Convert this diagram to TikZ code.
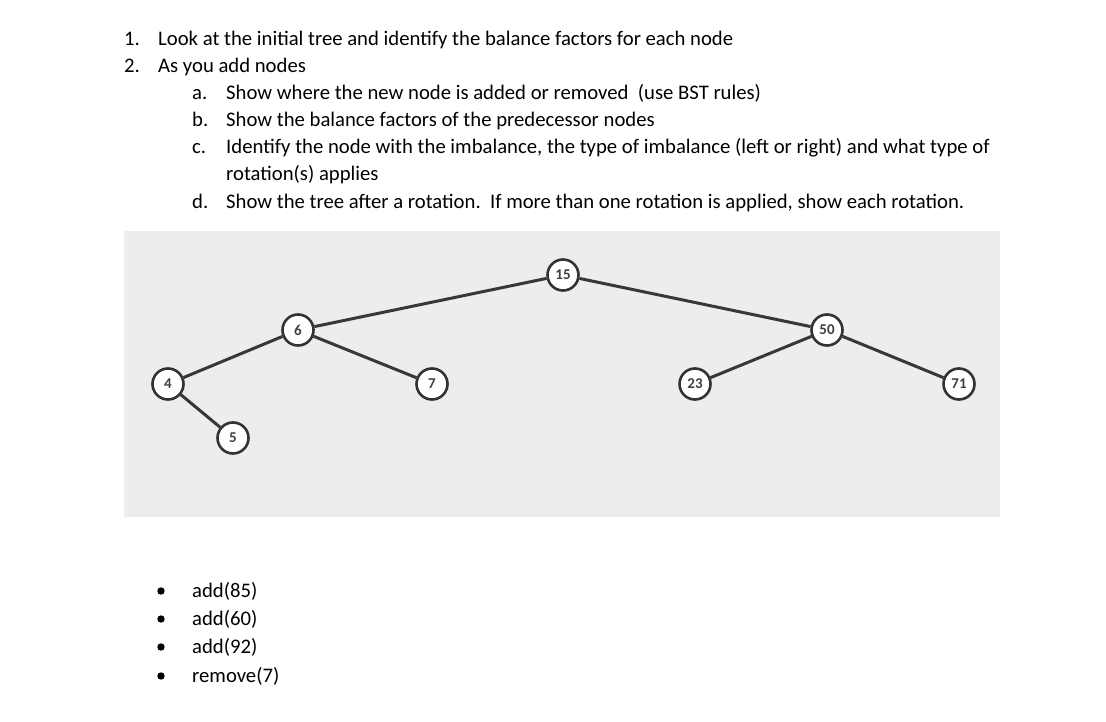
\documentclass[tikz,border=0pt]{standalone}
\usepackage{fontspec}
\setmainfont{Carlito}
\begin{document}
\begin{tikzpicture}[x=1pt,y=-1pt,
  txt/.style={anchor=base west,inner sep=0pt,font=\fontsize{20.7}{22}\selectfont},
  tn/.style={circle,draw=black!80,line width=2.6pt,fill=white,minimum size=31pt,inner sep=0pt,font=\fontsize{15}{15}\selectfont\bfseries,text=black!75},
  ed/.style={draw=black!78,line width=3pt}]
\useasboundingbox (0,0) rectangle (1106,722);
\fill[black!7] (124,231) rectangle (1000,517);
\foreach \n/\t/\y in {a/1./46,b/2./73}{\node[txt] (n\n) at (124,\y) {\t};}
\node[txt] (l1) at (158,46) {Look at the initial tree and identify the balance factors for each node};
\node[txt] (l2) at (158,73) {As you add nodes};
\node[txt] (sa) at (192,100) {a.};
\node[txt] (ta) at (226,100) {Show where the new node is added or removed\ \ (use BST rules)};
\node[txt] (sb) at (192,127) {b.};
\node[txt] (tb) at (226,127) {Show the balance factors of the predecessor nodes};
\node[txt] (sc) at (192,154) {c.};
\node[txt] (tc) at (226,154) {Identify the node with the imbalance, the type of imbalance (left or right) and what type of};
\node[txt] (tc2) at (226,181) {rotation(s) applies};
\node[txt] (sd) at (192,209) {d.};
\node[txt] (td) at (226,209) {Show the tree after a rotation.\ \ If more than one rotation is applied, show each rotation.};
\foreach \i/\t/\y in {1/add(85)/597,2/add(60)/625,3/add(92)/653,4/remove(7)/682}{
  \node[txt] (bt\i) at (192,\y) {\t};
  \fill (161,\y-6) circle (3.7pt);}
\node[tn] (n15) at (563,275) {15};
\node[tn] (n6) at (298,330) {6};
\node[tn] (n50) at (827,330) {50};
\node[tn] (n4) at (168,384) {4};
\node[tn] (n7) at (432,384) {7};
\node[tn] (n23) at (695,384) {23};
\node[tn] (n71) at (959,384) {71};
\node[tn] (n5) at (233,438) {5};
\draw[ed] (n15) -- (n6); \draw[ed] (n15) -- (n50);
\draw[ed] (n6) -- (n4); \draw[ed] (n6) -- (n7);
\draw[ed] (n4) -- (n5);
\draw[ed] (n50) -- (n23); \draw[ed] (n50) -- (n71);
\end{tikzpicture}
\end{document}
